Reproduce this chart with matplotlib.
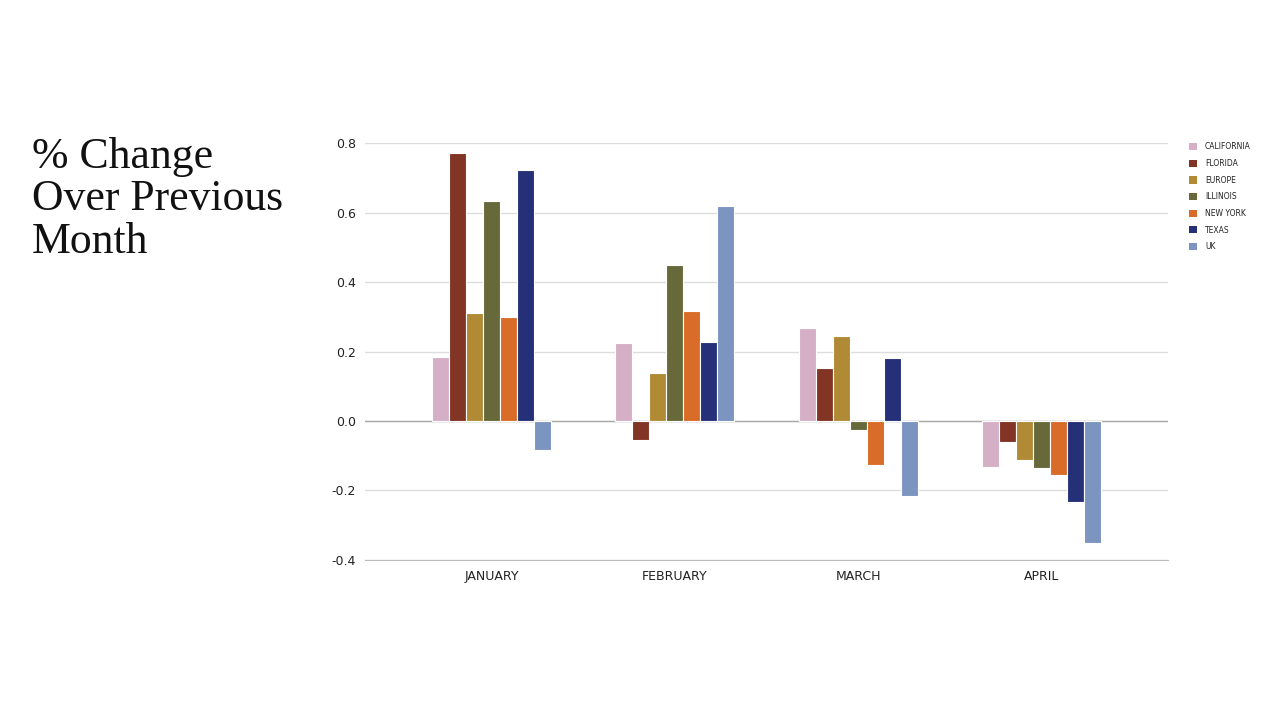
import numpy as np
import matplotlib.pyplot as plt
from matplotlib.patches import Patch

months = ['JANUARY', 'FEBRUARY', 'MARCH', 'APRIL']
series = ['CALIFORNIA', 'FLORIDA', 'EUROPE', 'ILLINOIS', 'NEW YORK', 'TEXAS', 'UK']
colors = ['#d4afc6', '#823524', '#b08a34', '#68693a', '#d96c28', '#263078', '#7b95c0']

california = [0.185, 0.224, 0.268, -0.131]
florida = [0.770, -0.055, 0.152, -0.060]
europe = [0.310, 0.138, 0.246, -0.113]
illinois = [0.632, 0.449, -0.025, -0.135]
new_york = [0.299, 0.316, -0.128, -0.155]
texas = [0.723, 0.227, 0.180, -0.234]
uk = [-0.083, 0.618, -0.216, -0.351]
values = [california, florida, europe, illinois, new_york, texas, uk]

title_lines = ['% Change', 'Over Previous', 'Month']

fig = plt.figure(figsize=(12.79, 7.13), dpi=100)
ax = fig.add_axes([0.285, 0.2146, 0.628, 0.5848])

x = np.arange(len(months))
slot = 0.0927
for i, (name, vals, c) in enumerate(zip(series, values, colors)):
    offs = (i - 3) * slot
    ax.bar(x + offs, vals, width=slot, color=c, edgecolor='white', linewidth=0.8, zorder=3)

ax.set_xlim(-0.693, 3.688)
ax.set_ylim(-0.4, 0.8)
ax.set_yticks([-0.4, -0.2, 0.0, 0.2, 0.4, 0.6, 0.8])
ax.set_yticklabels(['-0.4', '-0.2', '0.0', '0.2', '0.4', '0.6', '0.8'])
ax.set_xticks(x)
ax.set_xticklabels(months)
ax.grid(axis='y', color='#dddddd', linewidth=1, zorder=0)
ax.axhline(0, color='#aaaaaa', linewidth=1, zorder=2)
for s in ['top', 'right', 'left']:
    ax.spines[s].set_visible(False)
ax.spines['bottom'].set_color('#bbbbbb')
ax.tick_params(axis='both', length=0, labelsize=9, colors='#222222')
ax.tick_params(axis='x', pad=7)
ax.tick_params(axis='y', pad=6)

handles = [Patch(facecolor=c, edgecolor='none') for c in colors]
leg = fig.legend(handles, series, loc='upper left', bbox_to_anchor=(0.924, 0.81),
                 frameon=False, fontsize=5.5, handlelength=1.05, handleheight=1.05,
                 labelspacing=1.0, handletextpad=1.1)
for t in leg.get_texts():
    t.set_color('#222222')

# title block on the left, one text per line
for line, base in zip(title_lines, [168, 210, 253]):
    fig.text(32 / 1279, 1 - base / 713, line, fontsize=31.5, family='Liberation Serif',
             va='baseline', ha='left', color='#111111')

fig.savefig('out.png', dpi=100)
